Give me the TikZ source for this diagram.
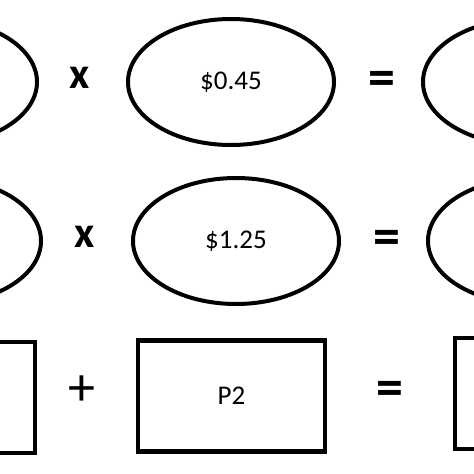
\documentclass[tikz,border=0pt]{standalone}
\usepackage{fontspec}
\setmainfont{Carlito}
\usetikzlibrary{shapes.geometric}
\begin{document}
\begin{tikzpicture}[x=1pt,y=-1pt,
  oval/.style={draw,ellipse,line width=4pt,minimum width=206pt,minimum height=126pt,inner sep=0pt,font=\fontsize{27}{30}\selectfont},
  box/.style={draw,rectangle,line width=4.5pt,minimum width=187pt,minimum height=111pt,inner sep=0pt,font=\fontsize{27}{30}\selectfont},
  opx/.style={font=\bfseries\fontsize{44}{48}\selectfont,inner sep=0pt},
  opeq/.style={font=\bfseries\fontsize{54}{58}\selectfont,inner sep=0pt},
  opplus/.style={font=\fontsize{54}{58}\selectfont,inner sep=0pt}]
\useasboundingbox (0,0) rectangle (474,474);
\clip (0,0) rectangle (474,474);
% row 1
\node[oval] (a1) at (-66,82) {};
\node[opx] (x1) at (80,78) {x};
\node[oval] (b1) at (231,82) {\$0.45};
\node[opeq] (e1) at (382,83) {=};
\node[oval] (c1) at (526,82) {};
% row 2
\node[oval] (a2) at (-62,241) {};
\node[opx] (x2) at (85,237) {x};
\node[oval] (b2) at (236,241) {\$1.25};
\node[opeq] (e2) at (387,242) {=};
\node[oval] (c2) at (531,241) {};
% row 3
\node[box] (a3) at (-58.5,397.5) {};
\node[opplus] (p3) at (82,391) {+};
\node[box] (b3) at (231.5,396) {P2};
\node[opeq] (e3) at (390,393) {=};
\node[box] (c3) at (548.5,393.5) {};
\end{tikzpicture}
\end{document}
